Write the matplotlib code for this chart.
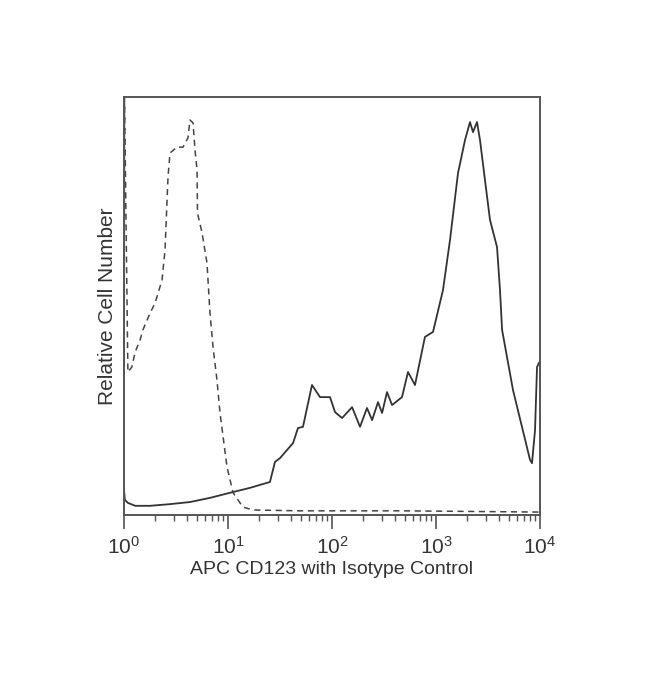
import matplotlib
matplotlib.use("Agg")
import matplotlib.pyplot as plt
from matplotlib.ticker import LogLocator, NullFormatter, FixedLocator

# CD123 staining (solid)
cd123_x = [1.00, 1.02, 1.09, 1.28, 1.78, 2.77, 4.31, 6.71, 10.4, 16.3, 25.3, 28.3,
           31.6, 42.2, 47.1, 52.6, 64.2, 76.7, 95.7, 107, 125, 156, 186, 217, 243,
           277, 303, 338, 378, 471, 538, 628, 783, 936, 1167, 1364, 1628, 1901,
           2123, 2270, 2479, 2649, 2958, 3305, 3861, 4124, 4318, 5500, 8017, 8378,
           8958, 9363, 9780]
cd123_y = [6.0, 3.6, 2.9, 2.2, 2.2, 2.6, 3.1, 4.1, 5.3, 6.5, 7.9, 12.7,
           13.6, 17.2, 20.8, 21.1, 31.1, 28.2, 28.2, 24.6, 23.2, 25.8, 21.1, 25.6, 22.7,
           27.0, 24.4, 29.4, 26.3, 28.2, 34.2, 31.1, 42.6, 43.8, 53.8, 65.8, 81.8, 89.7,
           94.0, 91.6, 94.0, 89.7, 80.1, 70.6, 64.1, 53.8, 44.3, 29.9, 13.2, 12.4,
           20.3, 35.4, 36.4]

# Isotype control (dashed)
iso_x = [1.0, 1.011, 1.09, 1.19, 1.28, 1.43, 1.52, 1.78, 1.99, 2.32, 2.48, 2.65,
         2.77, 3.23, 3.69, 4.12, 4.31, 4.61, 4.82, 5.04, 5.09, 5.63, 6.28, 6.71,
         7.18, 7.83, 8.38, 9.78, 11.2, 13.9, 17.4, 49.1, 459, 10000]
iso_y = [0, 100, 34.2, 35.4, 39.0, 41.9, 44.3, 48.3, 50.7, 56.2, 63.4, 80.9,
         86.6, 88.0, 88.0, 90.2, 94.5, 93.8, 87.3, 82.5, 72.2, 67.5, 60.3, 48.3,
         40.2, 32.3, 24.4, 11.5, 5.3, 1.9, 1.2, 1.0, 1.0, 0.7]

x_tick_labels = [r'$10^0$', r'$10^1$', r'$10^2$', r'$10^3$', r'$10^4$']

plt.rcParams['font.family'] = ['Liberation Sans', 'DejaVu Sans']
plt.rcParams['mathtext.fontset'] = 'custom'
plt.rcParams['mathtext.rm'] = 'Liberation Sans'
plt.rcParams['mathtext.it'] = 'Liberation Sans'
plt.rcParams['mathtext.bf'] = 'Liberation Sans'

fig = plt.figure(figsize=(6.5, 6.74), dpi=100)
ax = fig.add_axes([124/650, 1 - 515/674, 416/650, 418/674])

ax.plot(cd123_x, cd123_y, color='#333333', lw=1.3, solid_joinstyle='round')
ax.plot(iso_x, iso_y, color='#444444', lw=1.1, linestyle=(0, (4, 3)))

ax.set_xscale('log')
ax.set_xlim(1, 1e4)
ax.set_ylim(0, 100)

for s in ax.spines.values():
    s.set_color('#555555')
    s.set_linewidth(1.4)

ax.set_yticks([])
ax.xaxis.set_major_locator(FixedLocator([1, 10, 100, 1000, 10000]))
ax.xaxis.set_minor_locator(LogLocator(base=10, subs=range(2, 10), numticks=20))
ax.xaxis.set_minor_formatter(NullFormatter())
ax.set_xticklabels(x_tick_labels)
ax.tick_params(axis='x', which='major', direction='out', length=10, width=1.2,
               color='#555555', labelsize=15, labelcolor='#333333', pad=5)
ax.tick_params(axis='x', which='minor', direction='out', length=4, width=1.0,
               color='#555555')

ax.set_xlabel('APC CD123 with Isotype Control', fontsize=14, color='#333333', labelpad=2)
ax.set_ylabel('Relative Cell Number', fontsize=15, color='#333333', labelpad=5)

fig.savefig('out.png', dpi=100)
